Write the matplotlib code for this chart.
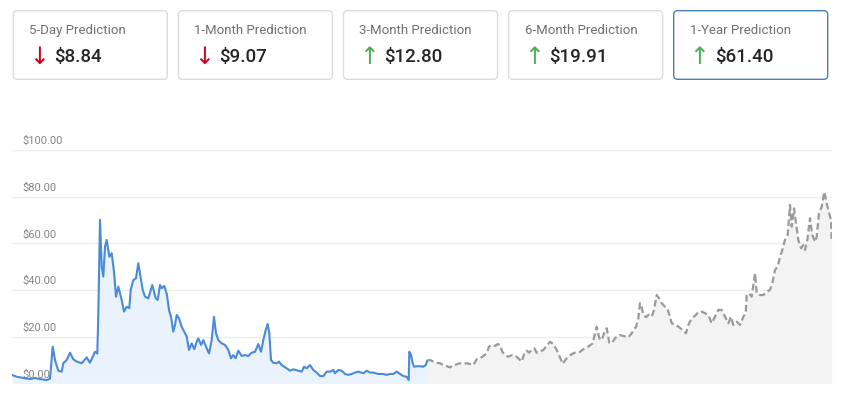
import matplotlib.pyplot as plt
from matplotlib.patches import FancyBboxPatch

plt.rcParams['font.family'] = ['Roboto', 'DejaVu Sans']

# ===== 数据 =====
card_titles = ['5-Day Prediction', '1-Month Prediction', '3-Month Prediction',
               '6-Month Prediction', '1-Year Prediction']
card_values = [8.84, 9.07, 12.80, 19.91, 61.40]
card_up = [False, False, True, True, True]

y_ticks = [0, 20, 40, 60, 80, 100]

# history: (time index, price)
hist_points = [
    (0, 3.6), (4.7, 2.8), (11, 2.3), (18, 1.8), (23, 2.3), (28, 1.8), (34.7, 1.4),
    (38, 2.0), (40.7, 15.7), (43, 10), (46.3, 5.4), (49.7, 5.0), (51.3, 8.6),
    (54.7, 10), (58, 13.1), (61.3, 10.3), (64.7, 9.3), (69.7, 8.6), (74.7, 11.1),
    (78, 8.8), (83, 13.5), (85.3, 12.8), (86.3, 29.3), (88, 70), (89.7, 50),
    (91.3, 45.7), (93, 58.5), (94.7, 61.4), (97.3, 54.2), (99.7, 55.7), (102, 47.8),
    (104, 37.1), (106.3, 41.4), (109.7, 35.7), (112, 30.7), (114.7, 32.8),
    (117.3, 32.2), (118.7, 40), (121.3, 44.2), (124, 45), (126.3, 51.4), (128, 47.1),
    (130.7, 40), (133, 37.1), (136.3, 36.4), (140.3, 42.1), (143.7, 36.4),
    (145.7, 35.7), (148, 42.1), (149.7, 40.7), (152.3, 41.7), (155, 37.8),
    (157, 31.4), (159, 28.5), (161.3, 22.1), (163, 25), (164.7, 29.3), (167, 27.8),
    (169.7, 24.2), (172.3, 22.1), (174.7, 20), (177, 14.3), (179.7, 17.1),
    (182.3, 14.6), (184.7, 17.8), (186.3, 19.3), (189, 16.4), (191.3, 18.5),
    (194.7, 15), (197, 12.8), (199.7, 18.5), (202, 28.5), (204, 21.4), (206.3, 18.5),
    (209.7, 17.1), (213, 16.4), (216.3, 14.3), (219, 10.7), (221.3, 12.1),
    (223.7, 10.7), (226.3, 14), (229.7, 11.7), (233, 12.1), (236.3, 11.7),
    (239.7, 13.1), (243, 13.5), (246.3, 16.8), (249, 13.5), (251.3, 18.5),
    (253.7, 22.8), (255.7, 25.4), (257.3, 21.4), (259, 10), (261.3, 8.8),
    (264.7, 8.6), (267, 9.3), (269.7, 7.8), (272.3, 7.1), (274.7, 6.4), (278, 5.4),
    (281.3, 6.0), (286.3, 5.4), (289.7, 5.0), (292, 7.1), (294.7, 6.4), (298, 7.8),
    (301.3, 5.7), (304.7, 4.6), (308, 3.1), (311.3, 3.1), (314.7, 5.0), (318, 5.0),
    (321.3, 5.7), (323, 4.3), (326.3, 5.7), (329.7, 5.4), (333, 4.0), (336.3, 3.6),
    (339.7, 4.0), (343, 4.6), (346.3, 5.0), (351.3, 4.3), (354.7, 5.4), (358, 4.6),
    (361.3, 4.6), (366.3, 4.0), (371.3, 4.0), (374.7, 3.6), (378, 4.0), (381.3, 4.0),
    (384.7, 5.0), (388, 4.0), (391.3, 3.1), (394.7, 2.8), (396.7, 1.4),
    (397.3, 13.5), (399, 12.1), (400.7, 8.6), (402, 7.1), (404.7, 7.3), (408, 7.3),
    (411.3, 7.1), (413.7, 7.8), (415.3, 9.7),
]

# prediction: (time index, price)
pred_points = [
    (415.3, 9.7), (418, 10), (421.3, 9.3), (424.7, 8.8), (428, 8.6), (431.3, 7.8),
    (434.7, 7.4), (438, 6.8), (441.3, 7.8), (444.7, 8.1), (448, 8.6), (451.3, 8.3),
    (454.7, 8.6), (458, 8.3), (461.3, 7.8), (464.7, 10.3), (468, 10.7), (471.3, 11.7),
    (474.7, 12.8), (477, 15.7), (479.7, 16.4), (483, 16.0), (485.7, 16.8),
    (488, 16.4), (490.3, 13.5), (493, 12.1), (496.3, 11.4), (500.3, 12.1),
    (503.7, 11.7), (506.3, 10.7), (509.7, 9.3), (512.3, 12.8), (514.7, 14),
    (517, 13.1), (519.7, 14.3), (522.3, 15), (524.7, 13.1), (528, 13.5),
    (531.3, 14.3), (534.7, 16), (538, 17.8), (541.3, 16.8), (544.7, 14.3),
    (548, 11.1), (550.5, 8.4), (554.7, 10.7), (559.7, 12.5), (564.7, 13.5),
    (568, 13.5), (571.3, 14.6), (576.3, 15.7), (580.7, 17.1), (583, 21.4),
    (584.7, 24.2), (587.3, 19.3), (589.7, 18.5), (592, 21.4), (594.7, 23.6),
    (597.3, 17.4), (599.7, 17.1), (603, 19.3), (607.3, 20.7), (611.3, 20.3),
    (616.3, 19.7), (619.7, 21.4), (624, 24.2), (626.3, 27.8), (628, 34.3),
    (629.7, 32.8), (631.3, 29.3), (634, 28.3), (636.3, 29.3), (639.7, 28.5),
    (642, 31.4), (644.7, 37.8), (647, 36.4), (649.7, 34.3), (653, 32.8),
    (655.3, 32.1), (658, 28.5), (659.7, 25.7), (663, 25), (666.3, 24.3),
    (670.7, 22.8), (674, 21.4), (676.3, 25), (679.7, 27.8), (683, 28.9),
    (686.3, 30.5), (689.7, 30.7), (693, 30), (696.3, 29.3), (699.7, 25.7),
    (703, 28.5), (706.3, 31.4), (709.7, 31.4), (713, 28.5), (716.3, 25.7),
    (719, 28.5), (721.3, 25), (724.7, 26.4), (728, 25), (731.3, 28.5), (733.7, 30),
    (734.7, 37.8), (737, 38.5), (739.7, 37.1), (741.3, 42.1), (743, 47.1),
    (744.7, 38.5), (748, 37.8), (751.3, 37.8), (754.7, 39.2), (758, 40),
    (760.3, 42.8), (763, 48.5), (765.7, 50), (768, 54.2), (770.3, 57.1),
    (773, 61.4), (775.7, 63.5), (778, 76.4), (779.7, 67.1), (782, 74.9),
    (784, 68.5), (786.3, 61.4), (789, 57.8), (791.3, 59.2), (793, 57.1),
    (795.3, 61.4), (798, 70.7), (800.3, 63.5), (803, 60.6), (804.7, 62.8),
    (807, 72.8), (809.7, 75.6), (812.3, 82), (814.7, 77.1), (817.3, 72.8),
    (819, 69.9), (819.7, 61.4),
]

hist_t, hist_price = zip(*hist_points)
pred_t, pred_price = zip(*pred_points)

# ===== 画布 =====
W, H = 845, 396
fig = plt.figure(figsize=(W / 100, H / 100), dpi=100)

# ===== 预测卡片 =====
top = fig.add_axes([0, 0, 1, 1])
top.set_xlim(0, W)
top.set_ylim(H, 0)
top.axis('off')

card_w, card_h, gap = 154, 68.6, 11.1
for i, (title, val, up) in enumerate(zip(card_titles, card_values, card_up)):
    x0 = 13.3 + i * (card_w + gap)
    edge = '#4a80b8' if i == len(card_titles) - 1 else '#dcdcdc'
    top.add_patch(FancyBboxPatch((x0, 10.7), card_w, card_h,
                                 boxstyle='round,pad=0,rounding_size=4',
                                 fc='white', ec=edge, lw=1))
    top.text(x0 + 16, 30.5, title, fontsize=9.5, color='#707070',
             va='center', ha='left')
    top.text(x0 + 25.5, 56.5, '↑' if up else '↓', fontsize=17,
             family='DejaVu Sans', color='#4caf50' if up else '#d0021b',
             va='center', ha='center')
    top.text(x0 + 41, 56.5, f'${val:.2f}', fontsize=13.5, color='#252525',
             va='center', ha='left', fontweight='medium')

# ===== 价格图 =====
ax = fig.add_axes([12 / W, (H - 383.3) / H, 820 / W, (383.3 - 149.8) / H])
ax.set_xlim(0, 820)
ax.set_ylim(0, 100)
for s in ax.spines.values():
    s.set_visible(False)
ax.tick_params(left=False, bottom=False, labelleft=False, labelbottom=False)

for v in y_ticks:
    ax.axhline(v, color='#cfcfcf' if v == 0 else '#eeeeee', lw=1, zorder=0)
    ax.annotate(f'${v:.2f}', xy=(0, v), xycoords=('axes fraction', 'data'),
                xytext=(7.5, 2.5), textcoords='offset points',
                fontsize=8, color='#858585', va='bottom', ha='left', zorder=1)

ax.fill_between(hist_t, hist_price, 0, color='#eaf2fc', lw=0, zorder=1)
ax.fill_between(pred_t, pred_price, 0, color='#f3f3f3', lw=0, zorder=1)
ax.plot(hist_t, hist_price, color='#4a8ad8', lw=1.5, zorder=3)
ax.plot(pred_t, pred_price, color='#9a9a9a', lw=1.6, ls=(0, (3, 1.5)), zorder=3)

fig.savefig('out.png', dpi=100)
